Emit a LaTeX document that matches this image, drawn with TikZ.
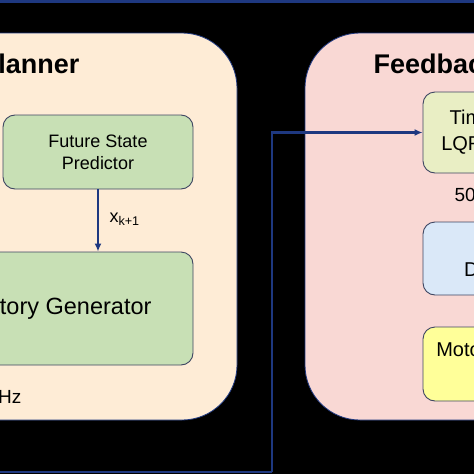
\documentclass[tikz,border=0pt]{standalone}
\usepackage{fontspec}
\setmainfont{Liberation Sans}
\usetikzlibrary{arrows.meta,positioning}

\definecolor{navyline}{RGB}{30,56,128}
\definecolor{boxline}{RGB}{62,70,98}
\definecolor{planbg}{RGB}{254,236,214}
\definecolor{fbbg}{RGB}{249,216,212}
\definecolor{greenbox}{RGB}{200,224,181}
\definecolor{lqrbox}{RGB}{233,238,196}
\definecolor{bluebox}{RGB}{218,232,248}
\definecolor{yellowbox}{RGB}{255,255,153}

\begin{document}
\begin{tikzpicture}[x=1pt,y=-1pt,
    panel/.style={draw=navyline, line width=0.8pt, rounded corners=55pt},
    block/.style={draw=boxline, line width=0.9pt, rounded corners=12pt,
        align=center, inner sep=0pt},
    title/.style={font=\fontsize{27}{31}\selectfont\bfseries},
    flow/.style={draw=navyline, line width=2.2pt, -{Latex[length=8pt,width=7pt]}},
    wire/.style={draw=navyline, line width=2.5pt}]

      % Canvas
      \useasboundingbox (0,0) rectangle (474,474);
      \clip (0,0) rectangle (474,474);
      \fill[black] (0,0) rectangle (474,474);

      % Panels
      \draw[panel, fill=planbg] (-80,33) rectangle (237,420);   % planner
      \draw[panel, fill=fbbg] (305,33) rectangle (560,420);     % feedback

      % Titles
      \node[title, anchor=base east] (plan title) at (83,73) {Planner};
      \node[title, anchor=base west] (fb title) at (370,73) {Feedback Controller};

      % Planner blocks
      \node[block, fill=greenbox, minimum width=190pt, minimum height=74pt,
            font=\fontsize{18}{22}\selectfont] (fsp) at (98,152) {Future State\\Predictor};
      \node[block, fill=greenbox, minimum width=299pt, minimum height=113pt,
            font=\fontsize{23.5}{28}\selectfont] (tg) at (43.5,308.5) {Trajectory Generator};

      % Feedback blocks
      \node[block, fill=lqrbox, minimum width=170pt, minimum height=81pt,
            font=\fontsize{20}{26}\selectfont] (lqr) at (508,132.5) {Time-Varying\\LQR Controller};
      \node[block, fill=bluebox, minimum width=170pt, minimum height=73pt,
            font=\fontsize{20}{26}\selectfont] (dyn) at (508,258.5) {Inverse\\Dynamics};
      \node[block, fill=yellowbox, minimum width=170pt, minimum height=74pt,
            font=\fontsize{20}{26}\selectfont] (mot) at (508,364) {Motor Controller\\(PWM)};

      % Rates
      \node[anchor=base east, font=\fontsize{19}{23}\selectfont] (plan rate) at (25,403) {10 Hz};
      \node[anchor=base west, font=\fontsize{19}{23}\selectfont] (fb rate) at (451,201) {500 Hz};

      % Connectors
      \draw[flow] (fsp.south) -- (fsp.south |- tg.north);
      \node[anchor=base west, font=\fontsize{18}{22}\selectfont] (xk) at (106,222) {x\textsubscript{k+1}};

      \coordinate (loop in) at (-10,472);
      \coordinate (loop turn) at (272,472);
      \draw[wire] (loop in) -- (loop turn);
      \draw[flow] (loop turn) |- (lqr.west);

      \coordinate (top in) at (-10,1.5);
      \coordinate (top out) at (484,1.5);
      \draw[wire, line width=3pt] (top in) -- (top out);

\end{tikzpicture}
\end{document}
